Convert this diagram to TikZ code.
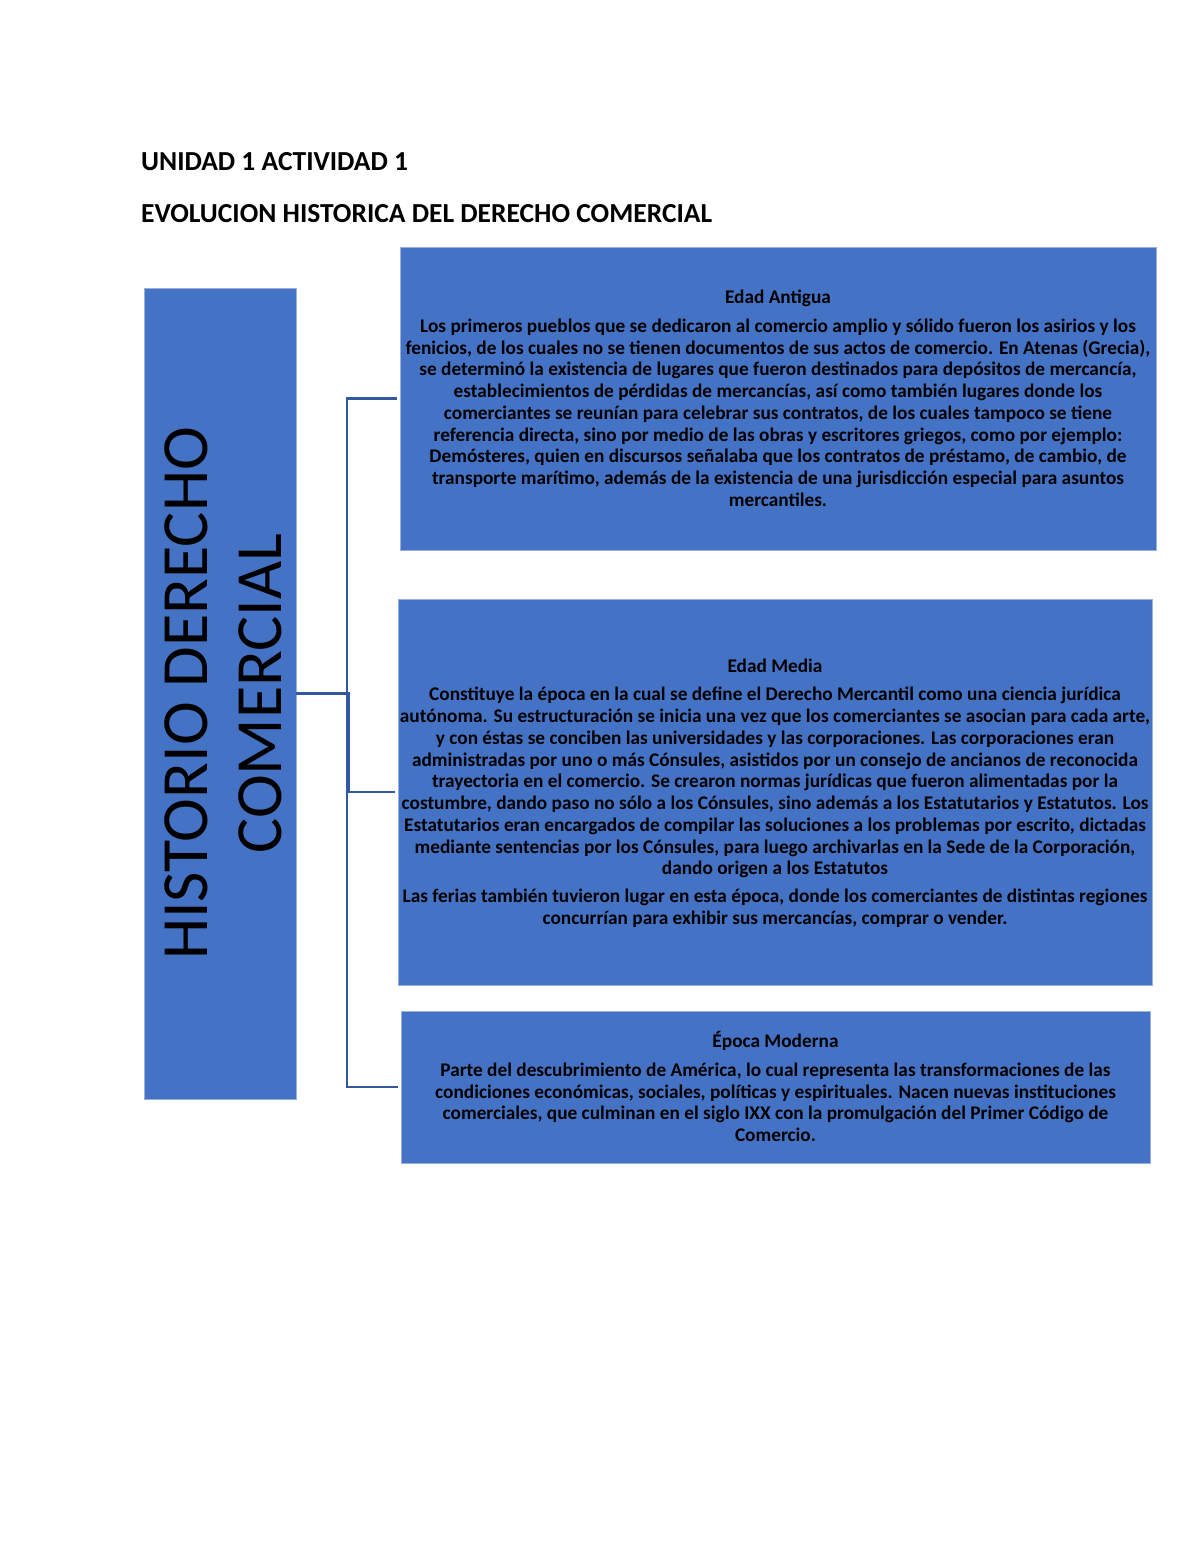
\documentclass[tikz,border=0pt]{standalone}
\usepackage{fontspec}
\setmainfont{Carlito}
\definecolor{boxblue}{RGB}{68,114,196}
\definecolor{boxedge}{RGB}{150,175,222}
\definecolor{linkblue}{RGB}{52,88,160}
\newcommand{\bodyfnt}{\fontsize{19.3}{21.75}\selectfont\bfseries}
\tikzset{
  bluebox/.style={rectangle, fill=boxblue, draw=boxedge, line width=0.8pt, inner sep=0pt},
  boxtext/.style={anchor=north, align=center, inner sep=0pt, font=\bodyfnt},
  titletext/.style={anchor=base west, inner sep=0pt, font=\fontsize{27.5}{33}\selectfont\bfseries},
  conn/.style={draw=linkblue, line width=2.2pt}
}
\begin{document}
\begin{tikzpicture}[x=1pt,y=-1pt]
\useasboundingbox (0,0) rectangle (1200,1553);
\fill[white] (0,0) rectangle (1200,1553);

\node[titletext] (t1) at (141,170) {UNIDAD 1 ACTIVIDAD 1};
\node[titletext] (t2) at (141,222) {EVOLUCION HISTORICA DEL DERECHO COMERCIAL};

\node[bluebox, minimum width=152pt, minimum height=811pt] (root) at (220,693.5) {};
\node[rotate=90, align=center, inner sep=0pt, font=\fontsize{66}{74}\selectfont] (rootlbl) at (223,693.5) {HISTORIO DERECHO\\COMERCIAL};

\node[bluebox, minimum width=756pt, minimum height=303pt] (b1) at (778,398.5) {};
\node[bluebox, minimum width=754pt, minimum height=386pt] (b2) at (775,792) {};
\node[bluebox, minimum width=749pt, minimum height=152pt] (b3) at (775.5,1087) {};

\node[boxtext] (b1txt) at (778,288.3) {\strut Edad Antigua\\[7pt]
Los primeros pueblos que se dedicaron al comercio amplio y sólido fueron los asirios y los\\
fenicios, de los cuales no se tienen documentos de sus actos de comercio. En Atenas (Grecia),\\
se determinó la existencia de lugares que fueron destinados para depósitos de mercancía,\\
establecimientos de pérdidas de mercancías, así como también lugares donde los\\
comerciantes se reunían para celebrar sus contratos, de los cuales tampoco se tiene\\
referencia directa, sino por medio de las obras y escritores griegos, como por ejemplo:\\
Demósteres, quien en discursos señalaba que los contratos de préstamo, de cambio, de\\
transporte marítimo, además de la existencia de una jurisdicción especial para asuntos\\
mercantiles.};

\node[boxtext] (b2txt) at (775,657.3) {\strut Edad Media\\[6.5pt]
Constituye la época en la cual se define el Derecho Mercantil como una ciencia jurídica\\
autónoma. Su estructuración se inicia una vez que los comerciantes se asocian para cada arte,\\
y con éstas se conciben las universidades y las corporaciones. Las corporaciones eran\\
administradas por uno o más Cónsules, asistidos por un consejo de ancianos de reconocida\\
trayectoria en el comercio. Se crearon normas jurídicas que fueron alimentadas por la\\
costumbre, dando paso no sólo a los Cónsules, sino además a los Estatutarios y Estatutos. Los\\
Estatutarios eran encargados de compilar las soluciones a los problemas por escrito, dictadas\\
mediante sentencias por los Cónsules, para luego archivarlas en la Sede de la Corporación,\\
dando origen a los Estatutos\\[6.25pt]
Las ferias también tuvieron lugar en esta época, donde los comerciantes de distintas regiones\\
concurrían para exhibir sus mercancías, comprar o vender.};

\node[boxtext] (b3txt) at (775.5,1031.3) {\strut Época Moderna\\[7pt]
Parte del descubrimiento de América, lo cual representa las transformaciones de las\\
condiciones económicas, sociales, políticas y espirituales. Nacen nuevas instituciones\\
comerciales, que culminan en el siglo IXX con la promulgación del Primer Código de\\
Comercio.};

\coordinate (j1) at (347,693.5);
\coordinate (j2) at (348.5,693.5);
\draw[conn] (root.east) -- (j2) |- ([xshift=-3pt]b2.west);
\draw[conn] (j1) |- ([xshift=-3pt]b1.west);
\draw[conn] (j1) |- ([xshift=-3pt]b3.west);
\end{tikzpicture}
\end{document}
